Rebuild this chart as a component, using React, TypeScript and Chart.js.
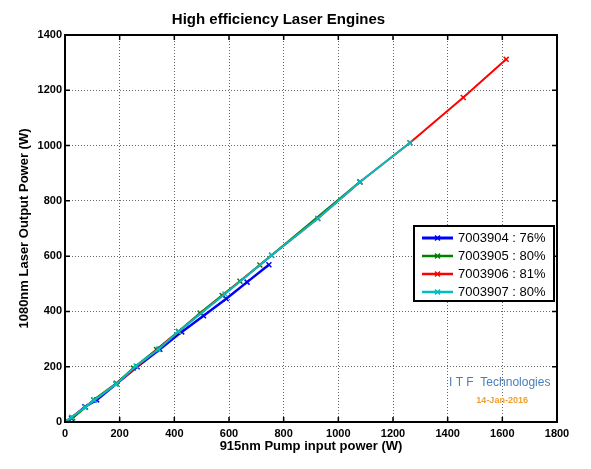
import { useEffect, useRef } from "react";
import { Chart, registerables, type Plugin, type ChartConfiguration } from "chart.js";

Chart.register(...registerables);

const FONT = "'Liberation Sans', Arial, Helvetica, sans-serif";

// legend labels + MATLAB default colour order
const seriesNames = ["7003904 : 76%", "7003905 : 80%", "7003906 : 81%", "7003907 : 80%"];
const seriesColors = ["#0000ff", "#008000", "#ff0000", "#00bfbf"];

// pump power (W) / laser output (W)
const pump3904 = [0, 24, 73, 116, 264, 347, 427, 507, 590, 666, 746];
const out3904 = [0, 13, 55, 80, 200, 263, 326, 384, 446, 506, 569];

const pump3905 = [0, 28, 75, 105, 188, 250, 335, 415, 494, 575, 640, 713, 1079];
const out3905 = [0, 15, 53, 80, 140, 195, 262, 327, 394, 458, 509, 568, 869];

const pump3906 = [0, 187, 415, 756, 925, 1079, 1262, 1457, 1614];
const out3906 = [0, 138, 327, 603, 736, 868, 1010, 1174, 1312];

const pump3907 = [0, 24, 73, 107, 187, 260, 342, 415, 585, 756, 925, 1079, 1262];
const out3907 = [0, 17, 53, 79, 137, 203, 263, 327, 463, 603, 736, 868, 1010];

const xTicks = [0, 200, 400, 600, 800, 1000, 1200, 1400, 1600, 1800];
const yTicks = [0, 200, 400, 600, 800, 1000, 1200, 1400];

const toPoints = (xs: number[], ys: number[]) => xs.map((x, i) => ({ x, y: ys[i] }));

// frame, inward ticks, legend box and the ITF note
const decorPlugin: Plugin = {
  id: "decor",
  afterDraw(chart) {
    const { ctx, chartArea: a, scales } = chart;
    const xs = scales.x;
    const ys = scales.y;
    ctx.save();

    ctx.strokeStyle = "#000";
    ctx.lineWidth = 2;
    ctx.strokeRect(a.left, a.top, a.right - a.left, a.bottom - a.top);

    ctx.lineWidth = 1.5;
    ctx.beginPath();
    xTicks.forEach((v) => {
      const px = xs.getPixelForValue(v);
      ctx.moveTo(px, a.bottom);
      ctx.lineTo(px, a.bottom - 5);
      ctx.moveTo(px, a.top);
      ctx.lineTo(px, a.top + 5);
    });
    yTicks.forEach((v) => {
      const py = ys.getPixelForValue(v);
      ctx.moveTo(a.left, py);
      ctx.lineTo(a.left + 5, py);
      ctx.moveTo(a.right, py);
      ctx.lineTo(a.right - 5, py);
    });
    ctx.stroke();

    // legend
    const w = 140;
    const h = 75;
    const left = a.right - 3 - w;
    const top = a.top + 191;
    ctx.fillStyle = "#fff";
    ctx.fillRect(left, top, w, h);
    ctx.lineWidth = 2;
    ctx.strokeStyle = "#000";
    ctx.strokeRect(left, top, w, h);
    ctx.font = `13px ${FONT}`;
    ctx.textBaseline = "middle";
    ctx.textAlign = "left";
    seriesNames.forEach((name, i) => {
      const ry = top + 12 + i * 18;
      const c = seriesColors[i];
      ctx.strokeStyle = c;
      ctx.lineWidth = i === 0 ? 3 : 2.5;
      ctx.beginPath();
      ctx.moveTo(left + 8, ry);
      ctx.lineTo(left + 39, ry);
      ctx.stroke();
      ctx.lineWidth = 1.5;
      ctx.beginPath();
      ctx.moveTo(left + 21, ry - 2.5);
      ctx.lineTo(left + 26, ry + 2.5);
      ctx.moveTo(left + 26, ry - 2.5);
      ctx.lineTo(left + 21, ry + 2.5);
      ctx.stroke();
      ctx.fillStyle = "#000";
      ctx.fillText(name, left + 44, ry + 0.5);
    });

    // company note
    ctx.fillStyle = "#4a7ebb";
    ctx.font = `12px ${FONT}`;
    ctx.fillText("I T F  Technologies", xs.getPixelForValue(1405), ys.getPixelForValue(142));
    ctx.fillStyle = "#f0a030";
    ctx.font = `bold 9px ${FONT}`;
    ctx.fillText("14-Jan-2016", xs.getPixelForValue(1505), ys.getPixelForValue(79));

    ctx.restore();
  },
};

export default function App() {
  const canvasRef = useRef<HTMLCanvasElement>(null);
  const chartRef = useRef<Chart | null>(null);

  useEffect(() => {
    document.body.style.margin = "0";
    if (!canvasRef.current) return;

    const pumps = [pump3904, pump3905, pump3906, pump3907];
    const outs = [out3904, out3905, out3906, out3907];

    const tickFont = { family: FONT, size: 11, weight: "bold" as const };
    const grid = { color: "rgba(0,0,0,0.6)", lineWidth: 1, drawTicks: false };
    const border = { display: true, color: "#000", width: 2, dash: [1, 2] };
    const plain = (v: number | string) => String(v);

    const cfg: ChartConfiguration<"line"> = {
      type: "line",
      data: {
        datasets: seriesNames.map((label, i) => ({
          label,
          data: toPoints(pumps[i], outs[i]),
          borderColor: seriesColors[i],
          backgroundColor: seriesColors[i],
          borderWidth: i === 0 ? 2.5 : 2,
          pointStyle: "crossRot",
          pointRadius: 3.5,
          pointBorderWidth: 1.5,
          pointBorderColor: seriesColors[i],
          tension: 0,
          fill: false,
          order: 3 - i,
        })),
      },
      options: {
        animation: false,
        responsive: true,
        maintainAspectRatio: false,
        layout: { padding: { left: 0, right: 34, top: 0, bottom: 0 } },
        scales: {
          x: {
            type: "linear",
            min: 0,
            max: 1800,
            afterFit: (s) => {
              s.height = 47;
            },
            afterBuildTicks: (s) => {
              s.ticks = xTicks.map((value) => ({ value }));
            },
            ticks: { color: "#000", font: tickFont, padding: 5, maxRotation: 0, callback: plain },
            grid,
            border,
            title: {
              display: true,
              text: "915nm Pump input power (W)",
              color: "#000",
              font: { family: FONT, size: 13, weight: "bold" },
              padding: { top: 0, bottom: 15 },
            },
          },
          y: {
            type: "linear",
            min: 0,
            max: 1400,
            afterFit: (s) => {
              s.width = 65;
            },
            afterBuildTicks: (s) => {
              s.ticks = yTicks.map((value) => ({ value }));
            },
            ticks: { color: "#000", font: tickFont, padding: 3, callback: plain },
            grid,
            border,
            title: {
              display: true,
              text: "1080nm Laser Output Power (W)",
              color: "#000",
              font: { family: FONT, size: 13, weight: "bold" },
              padding: { top: 17, bottom: 0 },
            },
          },
        },
        plugins: {
          legend: { display: false },
          tooltip: { enabled: false },
          title: {
            display: true,
            text: "High efficiency Laser Engines",
            color: "#000",
            font: { family: FONT, size: 15, weight: "bold" },
            padding: { top: 11, bottom: 6 },
          },
        },
      },
      plugins: [decorPlugin],
    };

    chartRef.current = new Chart(canvasRef.current, cfg);
    return () => {
      chartRef.current?.destroy();
      chartRef.current = null;
    };
  }, []);

  return (
    <div style={{ position: "relative", width: 591, height: 469 }}>
      <canvas ref={canvasRef} />
    </div>
  );
}
